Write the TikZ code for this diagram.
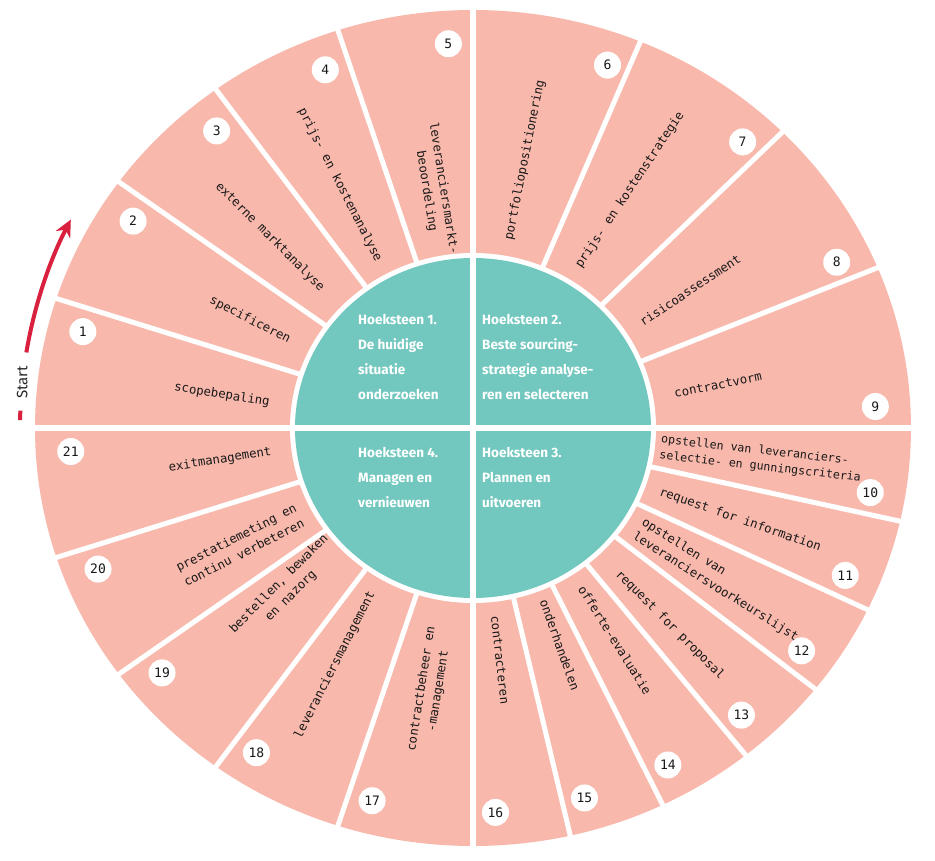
\documentclass[tikz,border=0pt]{standalone}
\usepackage{fontspec}
\setmainfont{DejaVu Sans Mono}
\newfontfamily\hfont{Fira Sans}
\usetikzlibrary{arrows.meta}
\definecolor{salmon}{HTML}{F8B8AC}
\definecolor{teal}{HTML}{72C8BF}
\definecolor{startred}{HTML}{D9203E}
\begin{document}
\begin{tikzpicture}[x=1pt,y=1pt,
  seg/.style={font=\fontsize{12.3}{17}\selectfont, text=black!90, align=center, inner sep=0},
  num/.style={circle, fill=white, minimum size=27pt, inner sep=0, font=\fontsize{13}{13}\selectfont, text=black!90},
  gap/.style={white, line width=5pt},
  hk/.style={font=\hfont\bfseries\fontsize{13.5}{25}\selectfont, text=white, align=left, anchor=north west, inner sep=0}]
\useasboundingbox (-473,-432) rectangle (462,428);
\fill[salmon] (0,0) ellipse [x radius=438, y radius=418];
% segment boundaries
\foreach \a in {108,126,144,162, 22.5,45,67.5} \draw[gap] (0,0) -- (\a:460 and 440);
\foreach \i in {1,...,6} \draw[gap] (0,0) -- ({-90/7*\i}:460 and 440);
\foreach \a in {198,216,234,252} \draw[gap] (0,0) -- (\a:460 and 440);
\fill[white] (0,0) ellipse [x radius=183, y radius=175];
\fill[teal] (0,0) ellipse [x radius=178, y radius=170];
\draw[white, line width=6pt] (-460,0) -- (460,0);
\draw[white, line width=6pt] (0,-440) -- (0,440);
% number circles
\foreach \n/\a in {1/165.5,2/147.5,3/129.5,4/111.5,5/93.5,6/70.5,7/48,8/25.5,9/3.2}
  \node[num] (n\n) at (\a:403 and 385) {\n};
\foreach \n in {10,...,16}
  \node[num] (n\n) at ({-90/7*(\n-9)+3.2}:403 and 385) {\n};
\foreach \n/\a in {17/255.5,18/237.5,19/219.5,20/201.5,21/183.5}
  \node[num] (n\n) at (\a:403 and 385) {\n};
% segment labels
\node[seg, rotate=-9] (t1) at (-251,33) {scopebepaling};
\node[seg, rotate=-27] (t2) at (-223,108) {specificeren};
\node[seg, rotate=-45] (t3) at (-203,191) {externe marktanalyse};
\node[seg, rotate=-63] (t4) at (-133,243) {prijs- en kostenanalyse};
\node[seg, rotate=-81] (t5) at (-38,238) {leveranciersmarkt-\\beoordeling};
\node[seg, rotate=78.75] (t6) at (52,268) {portfoliopositionering};
\node[seg, rotate=56.25] (t7) at (157,238) {prijs- en kostenstrategie};
\node[seg, rotate=33.75] (t8) at (217,138) {risicoassessment};
\node[seg, rotate=11.25] (t9) at (245,43) {contractvorm};
\node[seg, rotate=-6.43, align=left, font=\fontsize{11.6}{16}\selectfont] (t10) at (288,-31) {opstellen van leveranciers-\\selectie- en gunningscriteria};
\node[seg, rotate=-19.3] (t11) at (267,-92) {request for information};
\node[seg, rotate=-32.1, align=left] (t12) at (247,-152) {opstellen van\\leveranciersvoorkeurslijst};
\node[seg, rotate=-45] (t13) at (197,-197) {request for proposal};
\node[seg, rotate=-57.9] (t14) at (142,-212) {offerte-evaluatie};
\node[seg, rotate=-70.7] (t15) at (87,-217) {onderhandelen};
\node[seg, rotate=-83.6] (t16) at (27,-232) {contracteren};
\node[seg, rotate=81] (t17) at (-43,-262) {contractbeheer en\\-management};
\node[seg, rotate=63] (t18) at (-138,-237) {leveranciersmanagement};
\node[seg, rotate=45] (t19) at (-188,-162) {bestellen, bewaken\\en nazorg};
\node[seg, rotate=27] (t20) at (-233,-117) {prestatiemeting en\\continu verbeteren};
\node[seg, rotate=9] (t21) at (-253,-32) {exitmanagement};
% center texts
\node[hk] (h1) at (-115,114) {Hoeksteen 1.\\De huidige\\situatie\\onderzoeken};
\node[hk] (h2) at (9,114) {Hoeksteen 2.\\Beste sourcing-\\strategie analyse-\\ren en selecteren};
\node[hk] (h4) at (-115,-19) {Hoeksteen 4.\\Managen en\\vernieuwen};
\node[hk] (h3) at (9,-19) {Hoeksteen 3.\\Plannen en\\uitvoeren};
% start arrow
\coordinate (s0) at (179:453);
\node[font=\hfont\fontsize{15}{15}\selectfont, text=black!85, rotate=90, inner sep=0] (st) at (174.2:453) {Start};
\draw[startred, line width=4pt] (s0) arc[start angle=179, end angle=177.8, radius=453];
\draw[startred, line width=4pt, -{Stealth[length=17pt,width=16pt]}] (170.4:453) arc[start angle=170.4, end angle=152.6, radius=453];
\end{tikzpicture}
\end{document}
